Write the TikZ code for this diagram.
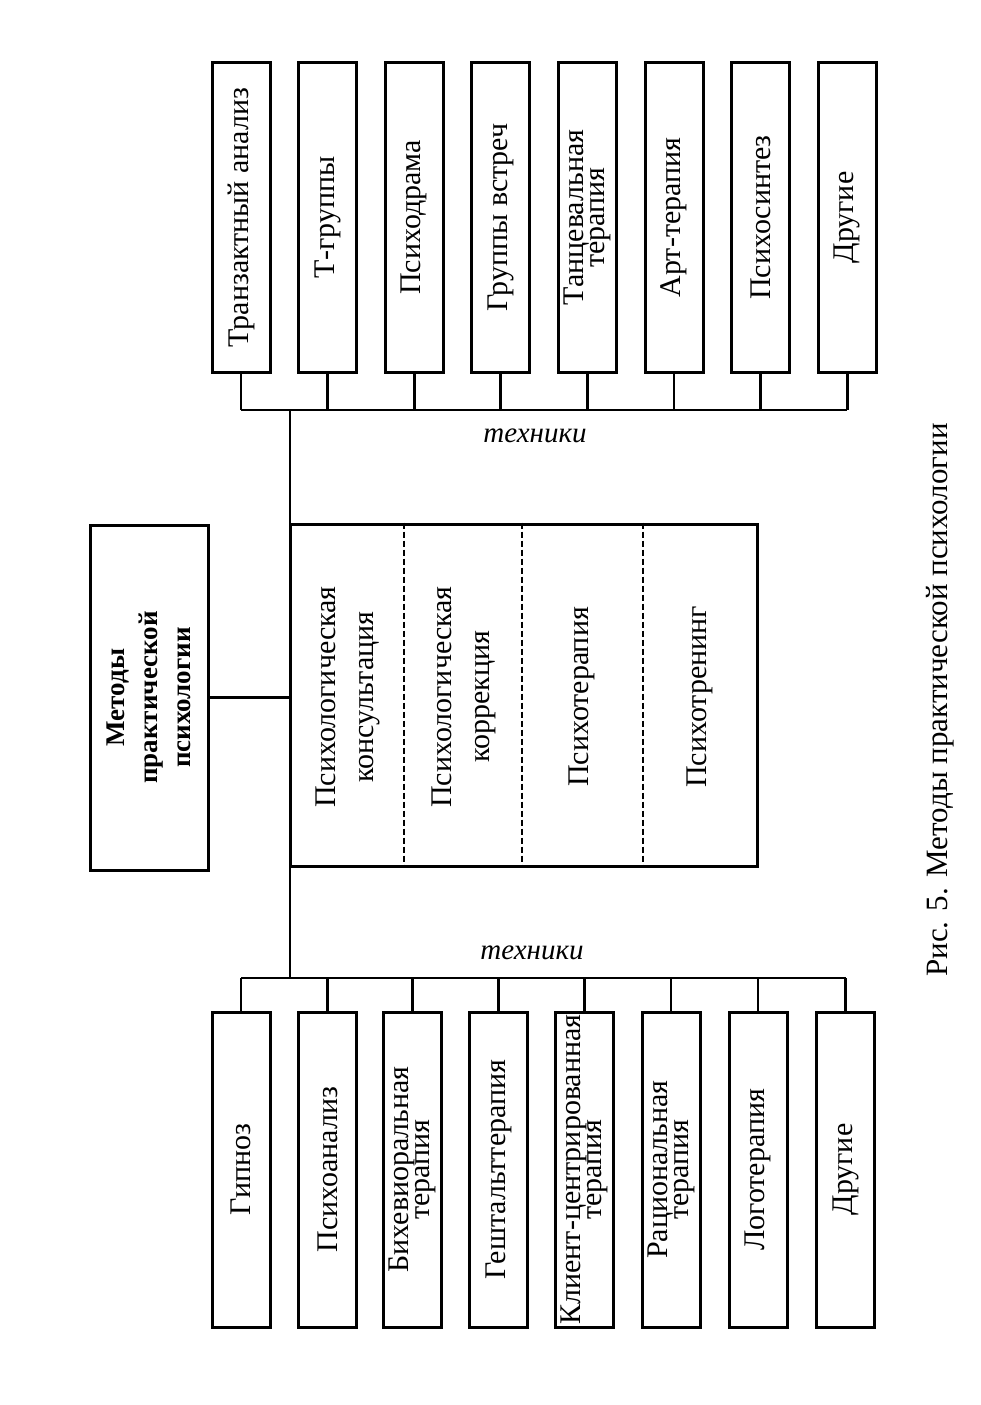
\documentclass[tikz,border=0pt]{standalone}
\usepackage{fontspec}
\setmainfont{Liberation Serif}
\usetikzlibrary{calc}
\newcommand\boxfont{\fontsize{30}{21}\selectfont}
\newcommand\midfont{\fontsize{30}{38}\selectfont}
\newcommand\headfont{\fontsize{27}{33}\selectfont\bfseries}
\newcommand\techfont{\fontsize{29}{30}\selectfont\itshape}
\newcommand\capfont{\fontsize{31}{33}\selectfont}
\tikzset{
  tb/.style={draw, line width=3pt, rotate=90, minimum width=309pt, minimum height=58pt, inner sep=0pt, align=center, font=\boxfont},
  bb/.style={tb, minimum width=315pt},
  conn/.style={line width=2.8pt},
  div/.style={line width=1.8pt, dash pattern=on 6pt off 3pt},
}
\begin{document}
\begin{tikzpicture}[x=1pt,y=-1pt]
\useasboundingbox (0,0) rectangle (981,1405);
% top technique boxes
\node[tb] (t1) at (241,217.5) {Транзактный анализ};
\node[tb] (t2) at (327.6,217.5) {Т-группы};
\node[tb] (t3) at (414.2,217.5) {Психодрама};
\node[tb] (t4) at (500.8,217.5) {Группы встреч};
\node[tb] (t5) at (587.4,217.5) {Танцевальная\\терапия};
\node[tb] (t6) at (674,217.5) {Арт-терапия};
\node[tb] (t7) at (760.6,217.5) {Психосинтез};
\node[tb] (t8) at (847.2,217.5) {Другие};
% bottom technique boxes
\node[bb] (b1) at (241,1169.5) {Гипноз};
\node[bb] (b2) at (327.6,1169.5) {Психоанализ};
\node[bb] (b3) at (412.5,1169.5) {Бихевиоральная\\терапия};
\node[bb] (b4) at (498.5,1169.5) {Гештальттерапия};
\node[bb] (b5) at (584.5,1169.5) {Клиент-центрированная\\терапия};
\node[bb] (b6) at (671,1169.5) {Рациональная\\терапия};
\node[bb] (b7) at (758,1169.5) {Логотерапия};
\node[bb] (b8) at (845.5,1169.5) {Другие};
% main box
\node[draw, line width=3pt, rotate=90, minimum width=345pt, minimum height=118pt, inner sep=0pt, align=center, font=\headfont] (m) at (149,697.5) {Методы\\практической\\психологии};
% middle box
\node[draw, line width=3pt, minimum width=467pt, minimum height=342pt, inner sep=0pt] (mid) at (523.5,695) {};
\draw[div] ($(mid.north west)!0.246!(mid.north east)$) -- ($(mid.south west)!0.246!(mid.south east)$);
\draw[div] ($(mid.north west)!0.497!(mid.north east)$) -- ($(mid.south west)!0.497!(mid.south east)$);
\draw[div] ($(mid.north west)!0.754!(mid.north east)$) -- ($(mid.south west)!0.754!(mid.south east)$);
\node[rotate=90, align=center, font=\midfont] (c1) at (348,697) {Психологическая\\консультация};
\node[rotate=90, align=center, font=\midfont] (c2) at (464,697) {Психологическая\\коррекция};
\node[rotate=90, align=center, font=\midfont] (c3) at (582,697) {Психотерапия};
\node[rotate=90, align=center, font=\midfont] (c4) at (700,697) {Психотренинг};
% buses
\coordinate (tk) at (290,410);
\coordinate (bk) at (290,978);
\foreach \i in {1,...,8} {
  \coordinate (tj\i) at (t\i.west |- tk);
  \coordinate (bj\i) at (b\i.east |- bk);
  \draw[conn] (t\i.west) -- (tj\i);
  \draw[conn] (b\i.east) -- (bj\i);
}
\draw[conn] (tj1) -- (tj8);
\draw[conn] (bj1) -- (bj8);
\draw[conn] (tk) -- (bk);
\draw[conn] (m.south) -- (m.south -| tk);
% labels
\node[font=\techfont] (l1) at (535,436) {техники};
\node[font=\techfont] (l2) at (532,953) {техники};
\node[rotate=90, font=\capfont] (cap) at (940,700) {Рис. 5. Методы практической психологии};
\end{tikzpicture}
\end{document}
